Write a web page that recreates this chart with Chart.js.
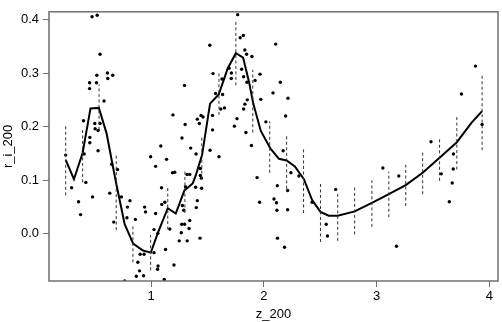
<!DOCTYPE html>
<html>
<head>
<meta charset="utf-8">
<script src="https://cdn.jsdelivr.net/npm/chart.js@4.4.1/dist/chart.umd.min.js"></script>
<style>
html,body{margin:0;padding:0;background:#fff;}
canvas{display:block;}
</style>
</head>
<body>
<canvas id="c" width="502" height="322"></canvas>
<script>
// ---- data ----
const pointX = [0.243,0.296,0.357,0.375,0.422,0.481,0.401,0.407,0.455,0.455,0.477,0.522,0.516,0.519,0.548,0.613,0.616,0.660,0.583,0.501,0.548,0.504,0.530,0.457,0.457,0.530,0.651,0.702,0.634,0.737,0.669,0.790,0.786,0.813,0.861,0.943,0.951,0.903,0.938,0.883,0.898,0.869,0.934,0.766,0.996,1.040,1.137,1.040,1.026,1.093,1.095,1.122,1.026,1.062,1.057,1.128,1.117,1.060,1.166,1.203,1.086,1.194,1.274,1.302,1.296,1.351,1.399,1.523,1.602,1.190,1.210,1.319,1.343,1.437,1.437,1.446,1.395,1.448,1.410,1.401,1.278,1.290,1.305,1.343,1.272,1.297,1.337,1.268,1.250,1.320,1.434,1.521,1.549,1.629,1.572,1.634,1.618,1.651,1.410,1.443,1.461,1.428,1.545,1.545,1.768,1.790,1.818,1.831,1.847,1.894,1.691,1.712,1.711,1.803,1.821,1.850,1.922,1.966,1.853,1.832,1.821,1.762,1.739,1.841,1.890,1.973,2.018,2.105,2.146,2.081,2.214,2.193,2.171,1.940,1.962,2.119,2.090,2.112,2.116,2.211,2.211,2.240,2.311,2.121,2.183,2.428,2.553,2.564,2.637,3.055,3.196,3.176,3.482,3.681,3.573,3.679,3.670,3.644,3.752,3.876,3.935];
const pointY = [0.147,0.086,0.060,0.036,0.096,0.069,0.211,0.149,0.271,0.282,0.405,0.408,0.282,0.296,0.335,0.300,0.290,0.296,0.248,0.206,0.206,0.196,0.193,0.180,0.170,0.155,0.130,0.120,0.076,0.069,0.022,0.050,0.030,0.062,0.027,0.050,0.041,-0.038,-0.038,-0.053,-0.069,-0.079,-0.078,-0.088,0.144,0.126,0.139,0.038,0.008,0.086,0.055,0.059,-0.035,-0.060,-0.066,-0.029,-0.085,0.001,0.009,-0.058,0.164,0.222,0.179,0.204,0.277,0.160,0.149,0.156,0.144,0.114,0.115,0.111,0.111,0.122,0.109,0.104,0.087,0.085,0.062,0.049,0.053,0.044,0.088,0.025,0.018,0.018,0.010,0.002,-0.013,-0.013,-0.008,0.352,0.299,0.289,0.262,0.260,0.233,0.235,0.214,0.221,0.218,0.206,0.221,0.194,0.409,0.366,0.370,0.343,0.335,0.331,0.309,0.300,0.290,0.307,0.293,0.283,0.286,0.298,0.250,0.242,0.233,0.215,0.201,0.189,0.165,0.251,0.209,0.354,0.283,0.263,0.253,0.220,0.155,0.105,0.059,0.090,0.065,0.058,0.044,0.045,0.081,0.114,0.108,-0.008,-0.025,0.059,0.018,-0.004,0.083,0.123,0.108,-0.023,0.172,0.149,0.112,0.121,0.095,0.060,0.261,0.313,0.204];

const fitX = [0.243,0.316,0.393,0.463,0.537,0.605,0.654,0.691,0.766,0.841,0.928,0.998,1.060,1.148,1.219,1.296,1.369,1.399,1.452,1.523,1.600,1.680,1.752,1.816,1.869,1.905,1.973,2.059,2.134,2.202,2.275,2.355,2.428,2.502,2.575,2.655,2.805,2.958,3.108,3.258,3.408,3.558,3.711,3.840,3.935];
const fitY = [0.138,0.102,0.151,0.234,0.235,0.188,0.134,0.094,0.018,-0.018,-0.031,-0.035,0.002,0.048,0.038,0.081,0.094,0.111,0.147,0.243,0.260,0.309,0.337,0.329,0.283,0.244,0.192,0.159,0.140,0.137,0.126,0.102,0.063,0.041,0.034,0.034,0.042,0.058,0.074,0.091,0.114,0.142,0.171,0.207,0.229];

const barX  = [0.243,0.393,0.539,0.691,0.839,0.996,1.148,1.300,1.450,1.602,1.752,1.902,2.052,2.202,2.352,2.502,2.655,2.805,2.958,3.108,3.258,3.408,3.558,3.711,3.935];
const barHi = [0.201,0.197,0.279,0.146,0.014,-0.002,0.087,0.117,0.181,0.299,0.396,0.306,0.210,0.185,0.158,0.093,0.079,0.088,0.100,0.116,0.129,0.153,0.177,0.219,0.296];
const barLo = [0.072,0.096,0.194,0.007,-0.053,-0.068,0.008,0.039,0.102,0.222,0.277,0.189,0.114,0.084,0.039,-0.015,-0.013,-0.001,0.013,0.031,0.052,0.074,0.099,0.120,0.156];

const xTicks = [1,2,3,4];
const yTicks = [0.0,0.1,0.2,0.3,0.4];
const xLabel = 'z_200';
const yLabel = 'r_i_200';

// ---- build datasets ----
const pts = pointX.map((x,i)=>({x:x,y:pointY[i]}));
const fit = fitX.map((x,i)=>({x:x,y:fitY[i]}));
const bars = [];
barX.forEach((x,i)=>{ bars.push({x:x,y:barLo[i]}); bars.push({x:x,y:barHi[i]}); bars.push({x:x,y:null}); });

const FONT = {family:'"Liberation Sans", Arial, Helvetica, sans-serif', size:13};
const AXC = '#6f6f6f';

const framePlugin = {
  id:'frame',
  afterDraw(chart){
    const a = chart.chartArea, ctx = chart.ctx;
    ctx.save();
    ctx.strokeStyle = AXC;
    ctx.lineWidth = 1.5;
    ctx.strokeRect(a.left, a.top, a.right-a.left, a.bottom-a.top);
    ctx.restore();
  }
};

new Chart(document.getElementById('c'), {
  type:'scatter',
  data:{
    datasets:[
      {type:'line', data:bars, borderColor:'#333', borderWidth:1, borderDash:[3,2.5], pointRadius:0, spanGaps:false, fill:false, tension:0},
      {type:'line', data:fit, borderColor:'#000', borderWidth:2, pointRadius:0, fill:false, tension:0},
      {type:'scatter', data:pts, backgroundColor:'#000', borderColor:'#000', pointRadius:1.7, borderWidth:0}
    ]
  },
  options:{
    responsive:false,
    animation:false,
    devicePixelRatio:1,
    layout:{padding:{top:1,right:2,left:0,bottom:0}},
    plugins:{legend:{display:false}, tooltip:{enabled:false}},
    scales:{
      x:{
        type:'linear', min:0.095, max:4.076,
        afterBuildTicks:s=>{ s.ticks = xTicks.map(v=>({value:v})); },
        afterFit:s=>{ s.height = 41; },
        grid:{drawOnChartArea:false, drawTicks:true, tickLength:6, color:AXC, lineWidth:1},
        border:{display:false},
        ticks:{font:FONT, color:'#000', padding:2, maxRotation:0, autoSkip:false, callback:v=>String(v)},
        title:{display:true, text:xLabel, font:FONT, color:'#000', padding:0}
      },
      y:{
        type:'linear', min:-0.0879, max:0.4143,
        afterBuildTicks:s=>{ s.ticks = yTicks.map(v=>({value:v})); },
        afterFit:s=>{ s.width = 49; },
        grid:{drawOnChartArea:false, drawTicks:true, tickLength:6, color:AXC, lineWidth:1},
        border:{display:false},
        ticks:{font:FONT, color:'#000', padding:4, autoSkip:false, callback:v=>v.toFixed(1)},
        title:{display:true, text:yLabel, font:FONT, color:'#000', padding:{top:1,bottom:0}}
      }
    }
  },
  plugins:[framePlugin]
});
</script>
</body>
</html>
